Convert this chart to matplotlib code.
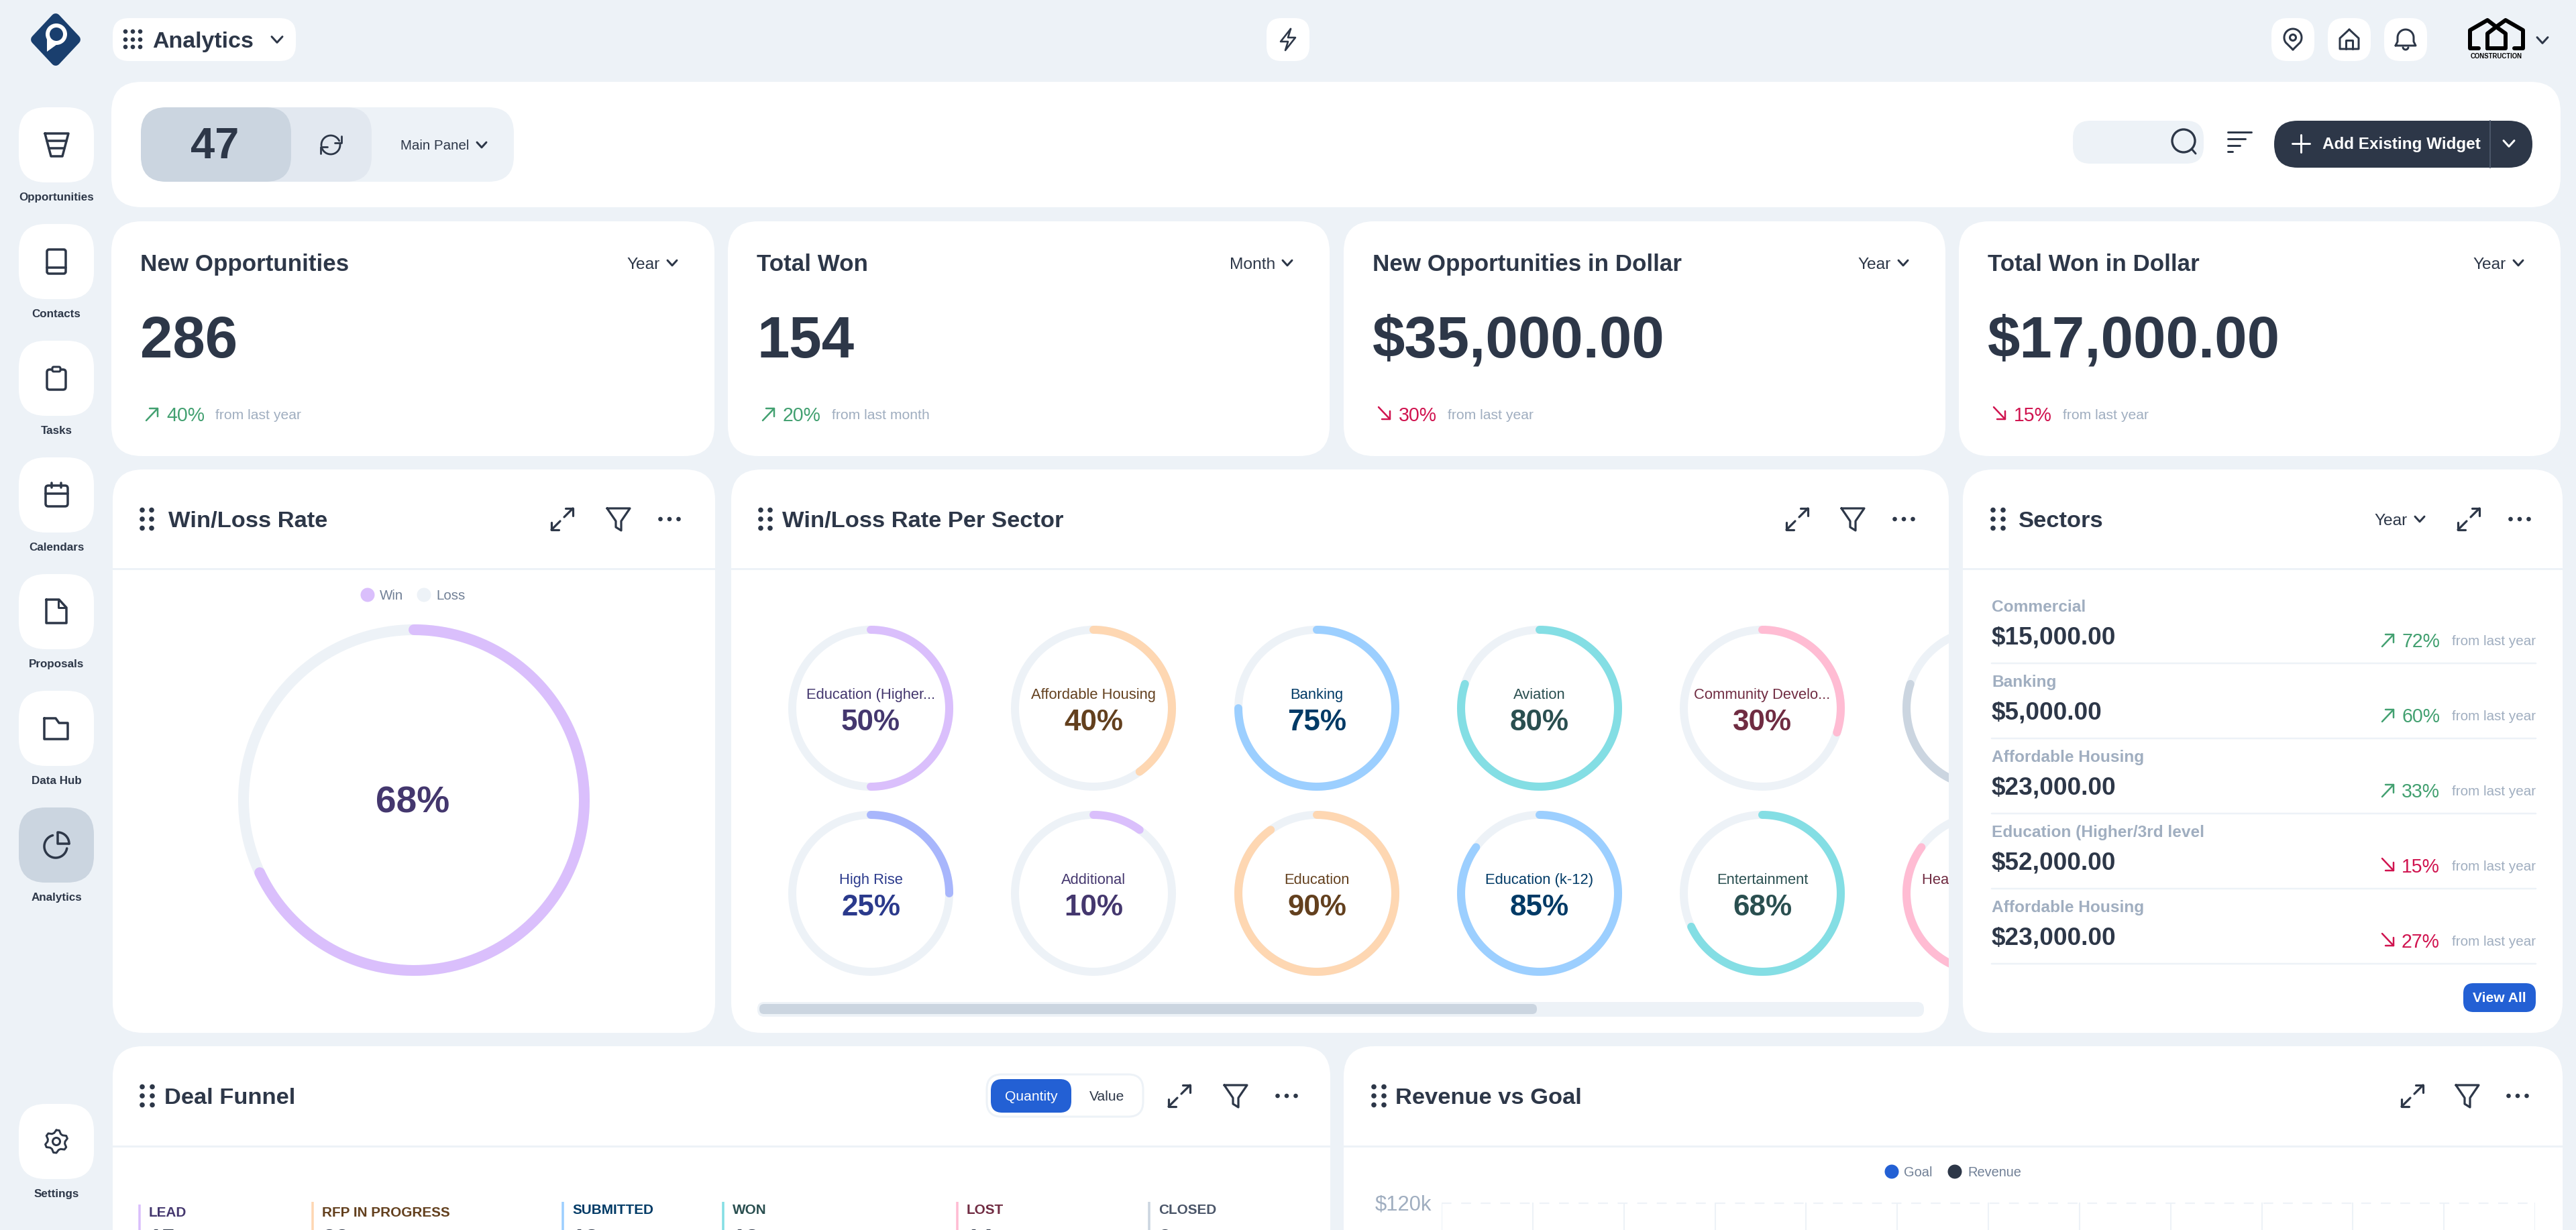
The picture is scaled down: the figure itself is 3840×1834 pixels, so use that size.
import numpy as np
import matplotlib
matplotlib.use("Agg")
import matplotlib.pyplot as plt
from matplotlib.patches import FancyBboxPatch, Circle, Rectangle, Polygon

plt.rcParams['font.family'] = ['Liberation Sans', 'DejaVu Sans']

# === Chart values ===
sidebar_labels = ["Opportunities", "Contacts", "Tasks", "Calendars", "Proposals", "Data Hub", "Analytics"]

kpi_titles = ["New Opportunities", "Total Won", "New Opportunities in Dollar", "Total Won in Dollar"]
kpi_values = ["286", "154", "$35,000.00", "$17,000.00"]
kpi_periods = ["Year", "Month", "Year", "Year"]
kpi_changes = [40, 20, -30, -15]
kpi_notes = ["from last year", "from last month", "from last year", "from last year"]

win_rate = 68

sector_donut_names = ["Education (Higher...", "Affordable Housing", "Banking", "Aviation", "Community Develo...", "",
                      "High Rise", "Additional", "Education", "Education (k-12)", "Entertainment", "Healthcare Facilit..."]
sector_donut_values = [50, 40, 75, 80, 30, 80,
                       25, 10, 90, 85, 68, 85]
sector_donut_colors = ["#DABFFC", "#FED7B2", "#9CCFFF", "#84DEE4", "#FFBCD3", "#CBD5E0",
                       "#A8B6FC", "#DABFFC", "#FED7B2", "#9CCFFF", "#84DEE4", "#FFBCD3"]
sector_text_colors = ["#44376E", "#63401E", "#003A66", "#2A4F50", "#702C42", "#4A5568",
                      "#2B3A8C", "#44376E", "#63401E", "#003A66", "#2A4F50", "#702C42"]

sector_names = ["Commercial", "Banking", "Affordable Housing", "Education (Higher/3rd level", "Affordable Housing"]
sector_values = ["$15,000.00", "$5,000.00", "$23,000.00", "$52,000.00", "$23,000.00"]
sector_changes = [72, 60, 33, -15, -27]

funnel_stages = ["LEAD", "RFP IN PROGRESS", "SUBMITTED", "WON", "LOST", "CLOSED"]
funnel_counts = ["15", "33", "18", "18", "14", "9"]
funnel_colors = ["#DABFFC", "#FED7B2", "#9CCFFF", "#84DEE4", "#FFBCD3", "#CBD5E0"]
funnel_text_colors = ["#44376E", "#63401E", "#003A66", "#2A4F50", "#702C42", "#4A5568"]

revenue_months = list(range(13))
revenue_ticks = [120]
revenue_tick_labels = ["$120k"]

# === Colours ===
BG = "#EDF2F7"
DARK = "#2D3748"
GREY = "#A0AEC0"
LEGEND = "#718096"
GREEN = "#42A070"
RED = "#D0134F"
BLUE = "#2360D4"

W, H = 3840, 1834
fig = plt.figure(figsize=(W / 100, H / 100), dpi=100, facecolor=BG)
ax = fig.add_axes([0, 0, 1, 1])
ax.set_xlim(0, W)
ax.set_ylim(H, 0)
ax.axis("off")


# === Helpers, everything below is in image pixels ===
def box(x0, y0, x1, y1, r, color, ec="none", lw=0, z=1):
    p = FancyBboxPatch((x0 + r, y0 + r), x1 - x0 - 2 * r, y1 - y0 - 2 * r,
                       boxstyle=f"round,pad={r},rounding_size={r}",
                       fc=color, ec=ec, lw=lw * 0.72, zorder=z)
    ax.add_patch(p)


def tx(x, y, s, px, color=DARK, bold=False, ha="left", z=5):
    # y is the middle of the capitals
    return ax.text(x, y + 0.34 * px, s, fontsize=px * 0.72, color=color, ha=ha, va="baseline",
                   fontweight="bold" if bold else "normal", zorder=z)


def line(pts, lw=3.5, color=DARK, closed=False, z=5):
    pts = list(pts)
    if closed:
        pts.append(pts[0])
    xs, ys = zip(*pts)
    ax.plot(xs, ys, color=color, lw=lw * 0.72, solid_capstyle="round", solid_joinstyle="round", zorder=z)


def shift(pts, cx, cy):
    return [(cx + a, cy + b) for a, b in pts]


def arc(cx, cy, r, a0, a1, lw=3.5, color=DARK, z=5):
    t = np.radians(np.linspace(a0, a1, 80))
    ax.plot(cx + r * np.sin(t), cy - r * np.cos(t), color=color, lw=lw * 0.72, solid_capstyle="round", zorder=z)


def chevron(cx, cy, size=7, color=DARK):
    line([(cx - size, cy - size * 0.55), (cx, cy + size * 0.55), (cx + size, cy - size * 0.55)], lw=3, color=color)


def dots(cx, cy, color=DARK):
    for dx in (-13.5, 0, 13.5):
        ax.add_patch(Circle((cx + dx, cy), 3.3, fc=color, ec="none", zorder=5))


def grip(x0, x1, cy):
    for yy in (cy - 13.5, cy, cy + 13.5):
        for xx in (x0, x1):
            ax.add_patch(Circle((xx, yy), 3.8, fc=DARK, ec="none", zorder=5))


def expand(cx, cy):
    line(shift([(3, -3), (16, -16)], cx, cy), lw=3.2)
    line(shift([(5, -16), (16, -16), (16, -5)], cx, cy), lw=3.2)
    line(shift([(-3, 3), (-16, 16)], cx, cy), lw=3.2)
    line(shift([(-16, 5), (-16, 16), (-5, 16)], cx, cy), lw=3.2)


def funnel_icon(cx, cy):
    line(shift([(-17, -16), (17, -16), (4, 3), (4, 17), (-4, 12), (-4, 3)], cx, cy), lw=3.2, closed=True)


def trend(cx, cy, up):
    col = GREEN if up else RED
    if up:
        line(shift([(-9, 10), (8, -8)], cx, cy), lw=2.5, color=col)
        line(shift([(-4, -8), (8, -8), (8, 4)], cx, cy), lw=2.5, color=col)
    else:
        line(shift([(-9, -10), (8, 8)], cx, cy), lw=2.5, color=col)
        line(shift([(-4, 8), (8, 8), (8, -4)], cx, cy), lw=2.5, color=col)


def donut(cx, cy, r, w, value, color, clip=None):
    t = np.linspace(0, 2 * np.pi, 361)
    p = np.linspace(0, value / 100 * 2 * np.pi, 240)
    a, = ax.plot(cx + r * np.sin(t), cy - r * np.cos(t), color=BG, lw=w * 0.72, zorder=3)
    b, = ax.plot(cx + r * np.sin(p), cy - r * np.cos(p), color=color, lw=w * 0.72,
                 solid_capstyle="round", zorder=4)
    if clip is not None:
        a.set_clip_path(clip)
        b.set_clip_path(clip)


# === Top bar ===
ax.add_patch(Polygon([(83, 27), (113, 59), (83, 91), (53, 59)], closed=True, fc="#1A3F6E", ec="#1A3F6E",
                     lw=10, joinstyle="round", zorder=2))
ax.add_patch(Polygon([(70, 51), (70, 77), (88, 64)], closed=True, fc="white", ec="none", zorder=3))
ax.add_patch(Circle((84, 51), 13, fc="#1A3F6E", ec="white", lw=4.3, zorder=4))

box(168, 27, 441, 91, 24, "white")
for yy in (47, 59, 70):
    for xx in (187, 198, 209):
        ax.add_patch(Circle((xx, yy), 3.3, fc=DARK, ec="none", zorder=5))
tx(227, 59, "Analytics", 34, bold=True)
chevron(413, 59, 8)

box(1888, 27, 1952, 91, 22, "white")
line([(1924, 43), (1909, 62), (1920, 62), (1916, 75), (1931, 56), (1920, 56)], lw=2.6, closed=True)

for cx in (3418, 3502, 3586):
    box(cx - 32, 27, cx + 32, 91, 24, "white")
# pin
t = np.radians(np.linspace(-125, 125, 60))
line([(3418, 74)] + [(3418 + 13 * np.sin(a), 56 - 13 * np.cos(a)) for a in t], lw=3, closed=True)
ax.add_patch(Circle((3418, 56), 4.5, fc="white", ec=DARK, lw=2.2, zorder=5))
# home
line([(3502, 44), (3516, 57), (3516, 73), (3488, 73), (3488, 57)], lw=3, closed=True)
line([(3497, 73), (3497, 60), (3507, 60), (3507, 73)], lw=3)
# bell
t = np.radians(np.linspace(-90, 90, 40))
line([(3571, 68)] + [(3574, 62)] + [(3586 + 12 * np.sin(a), 56 - 12 * np.cos(a)) for a in t] + [(3598, 62), (3601, 68)], lw=3, closed=True)
arc(3586, 70, 4, 100, 260, lw=3)

# construction logo
line([(3695, 72), (3682, 72), (3682, 45), (3708, 30), (3721, 40), (3735, 30), (3761, 45), (3761, 72), (3748, 72)],
     lw=6, color="black")
line([(3708, 72), (3708, 50), (3721, 40), (3735, 50), (3735, 72)], lw=6, color="black", closed=True)
tx(3721, 84, "CONSTRUCTION", 9.6, color="black", bold=True, ha="center")
chevron(3790, 60, 8)

# === Sidebar ===
side_y = [160, 334, 508, 682, 856, 1030, 1204]
for i, name in enumerate(sidebar_labels):
    y0 = side_y[i]
    box(28, y0, 140, y0 + 112, 40, "#CBD5E0" if name == "Analytics" else "white")
    tx(84, y0 + 133, name, 17, bold=True, ha="center")

line([(67, 199), (102, 199), (93, 233), (76, 233)], closed=True)
line([(70, 210), (99, 210)])
line([(73, 221), (96, 221)])
box(70, 372, 98, 408, 3, "none", ec=DARK, lw=3.5, z=5)
line([(70, 399), (98, 399)])
box(70, 551, 98, 581, 4, "none", ec=DARK, lw=3.5, z=5)
box(78, 547, 90, 554, 2, "white", ec=DARK, lw=3, z=6)
box(68, 724, 101, 755, 4, "none", ec=DARK, lw=3.5, z=5)
line([(68, 736), (101, 736)])
line([(77, 720), (77, 727)])
line([(91, 720), (91, 727)])
line([(69, 894), (88, 894), (99, 906), (99, 929), (69, 929)], closed=True)
line([(87, 895), (87, 906), (98, 906)], lw=3)
line([(66, 1071), (83, 1071), (88, 1078), (101, 1078), (101, 1102), (66, 1102)], closed=True)
arc(83, 1262, 17, 100, 345)
line([(86, 1242), (86, 1258), (103, 1258)])
arc(86, 1258, 17, 0, 90)

# settings
box(28, 1646, 140, 1758, 40, "white")
t = np.radians(np.arange(0, 375, 15))
rad = [17 if k % 4 in (0, 1) else 13 for k in range(len(t))]
line([(84 + r * np.sin(a), 1702 - r * np.cos(a)) for a, r in zip(t, rad)], lw=3)
ax.add_patch(Circle((84, 1702), 5.5, fc="white", ec=DARK, lw=2.2, zorder=5))
tx(84, 1779, "Settings", 17, bold=True, ha="center")

# === Widget header panel ===
box(166, 122, 3817, 309, 45, "white")
box(210, 160, 766, 271, 38, BG, z=2)
box(300, 160, 554, 271, 38, "#E2E8F0", z=3)
box(210, 160, 434, 271, 38, "#CBD5E0", z=4)
tx(320, 214, "47", 65, bold=True, ha="center")
arc(493, 216, 14, -95, 65, lw=2.8)
arc(493, 216, 14, 85, 245, lw=2.8)
line([(509, 203), (509, 213), (499, 213)], lw=2.8)
line([(478, 229), (478, 219), (488, 219)], lw=2.8)
tx(597, 216, "Main Panel", 20.5)
chevron(718, 216, 7)

box(3090, 180, 3285, 244, 26, BG)
ax.add_patch(Circle((3255, 210), 17, fc="none", ec=DARK, lw=2.4, zorder=5))
line([(3267, 222), (3273, 229)], lw=3)
for yy, ln in zip((197, 207, 216.5, 226), (35, 26, 18, 7)):
    line([(3321, yy), (3321 + ln, yy)], lw=3)

box(3390, 180, 3775, 250, 35, DARK)
line([(3712, 180), (3712, 250)], lw=2, color="#4A5568")
line([(3430, 201), (3430, 227)], lw=3, color="white")
line([(3417, 214), (3443, 214)], lw=3, color="white")
tx(3462, 214, "Add Existing Widget", 24.2, color="white", bold=True)
chevron(3740, 214, 8, color="white")

# === KPI cards ===
kpi_x0 = [166, 1085, 2003, 2920]
kpi_x1 = [1065, 1982, 2900, 3817]
for i in range(4):
    x0, x1 = kpi_x0[i], kpi_x1[i]
    box(x0, 330, x1, 680, 45, "white")
    tx(x0 + 43, 392, kpi_titles[i], 35, bold=True)
    tx(x0 + 43, 503, kpi_values[i], 87, bold=True)
    tx(x1 - 81, 393, kpi_periods[i], 24.5, ha="right")
    chevron(x1 - 63, 392, 7)
    up = kpi_changes[i] > 0
    trend(x0 + 61, 617, up)
    tx(x0 + 82, 618, f"{abs(kpi_changes[i])}%", 28.5, color=GREEN if up else RED)
    tx(x0 + 155, 618, kpi_notes[i], 21.2, color=GREY)

# === Win/Loss Rate ===
box(168, 700, 1066, 1540, 45, "white")
grip(212, 226, 774)
tx(251, 774, "Win/Loss Rate", 34.5, bold=True)
line([(168, 848), (1066, 848)], lw=3, color=BG)
expand(838, 774)
funnel_icon(922, 774)
dots(998, 774)
ax.add_patch(Circle((548, 887), 10.5, fc="#DABFFC", ec="none", zorder=5))
tx(566, 887, "Win", 20.5, color=LEGEND)
ax.add_patch(Circle((632, 887), 10.5, fc=BG, ec="none", zorder=5))
tx(650, 887, "Loss", 20.5, color=LEGEND)
donut(617, 1193, 254, 16, win_rate, "#DABFFC")
tx(615, 1193, f"{win_rate}%", 55, color="#44376E", bold=True, ha="center")

# === Win/Loss Rate Per Sector ===
box(1090, 700, 2905, 1540, 45, "white")
grip(1134, 1148, 774)
tx(1166, 774, "Win/Loss Rate Per Sector", 34.5, bold=True)
line([(1090, 848), (2905, 848)], lw=3, color=BG)
expand(2679, 774)
funnel_icon(2762, 774)
dots(2838, 774)

clip = Rectangle((1095, 880), 2905 - 1095, 600, transform=ax.transData)
centre_x = [1298, 1630, 1963, 2295, 2627, 2959]
centre_y = [1056, 1332]
for i, val in enumerate(sector_donut_values):
    cx = centre_x[i % 6]
    cy = centre_y[i // 6]
    donut(cx, cy, 117, 12, val, sector_donut_colors[i], clip=clip)
    a = tx(cx, cy - 21, sector_donut_names[i], 22, color=sector_text_colors[i], ha="center")
    a.set_clip_on(True)
    a.set_clip_path(clip)
    # last column runs under the card edge, its percent is fully hidden there
    if i % 6 < 5:
        tx(cx, cy + 18, f"{val}%", 44, color=sector_text_colors[i], bold=True, ha="center")

box(1129, 1494, 2868, 1516, 10, BG)
box(1132, 1497, 2291, 1512, 7, "#CBD5E0", z=2)

# === Sectors ===
box(2926, 700, 3820, 1540, 45, "white")
grip(2971, 2986, 774)
tx(3009, 774, "Sectors", 34.5, bold=True)
line([(2926, 848), (3820, 848)], lw=3, color=BG)
tx(3589, 775, "Year", 24.5, ha="right")
chevron(3607, 774, 7)
expand(3680, 774)
dots(3756, 774)
for i, name in enumerate(sector_names):
    dy = 112 * i
    tx(2969, 904 + dy, name, 24.5, color=GREY, bold=True)
    tx(2969, 948 + dy, sector_values[i], 37, bold=True)
    line([(2969, 989 + dy), (3780, 989 + dy)], lw=2.5, color=BG)
    up = sector_changes[i] > 0
    trend(3560, 954 + dy, up)
    tx(3580, 955 + dy, f"{abs(sector_changes[i])}%", 28.5, color=GREEN if up else RED)
    tx(3655, 955 + dy, "from last year", 20.6, color=GREY)
box(3672, 1466, 3780, 1509, 15, BLUE)
tx(3726, 1487, "View All", 21, color="white", bold=True, ha="center")

# === Deal Funnel ===
box(168, 1560, 1983, 1900, 45, "white")
grip(212, 227, 1634)
tx(245, 1634, "Deal Funnel", 34.5, bold=True)
line([(168, 1709), (1983, 1709)], lw=3, color=BG)
box(1471, 1602, 1704, 1665, 22, "white", ec=BG, lw=3)
box(1477, 1609, 1597, 1659, 17, BLUE, z=2)
tx(1537, 1634, "Quantity", 21, color="white", ha="center")
tx(1650, 1634, "Value", 21, ha="center")
expand(1758, 1634)
funnel_icon(1842, 1634)
dots(1918, 1634)

stage_x = [208, 466, 839, 1078, 1427, 1713]
stage_top = [1796, 1792, 1792, 1792, 1792, 1792]
stage_y = [1807, 1807, 1803, 1803, 1803, 1803]
for i, stage in enumerate(funnel_stages):
    x = stage_x[i]
    ax.plot([x, x], [stage_top[i], 1840], color=funnel_colors[i], lw=3.5 * 0.72, solid_capstyle="butt", zorder=5)
    tx(x + 14, stage_y[i], stage, 20.8, color=funnel_text_colors[i], bold=True)
    ax.text(x + 14, 1832, funnel_counts[i], fontsize=36 * 0.72, color=DARK, fontweight="bold", va="top", zorder=5)

# === Revenue vs Goal ===
box(2003, 1560, 3820, 1900, 45, "white")
grip(2048, 2063, 1634)
tx(2080, 1634, "Revenue vs Goal", 34.5, bold=True)
line([(2003, 1709), (3820, 1709)], lw=3, color=BG)
expand(3596, 1634)
funnel_icon(3678, 1634)
dots(3753, 1634)
ax.add_patch(Circle((2820, 1747), 10.5, fc=BLUE, ec="none", zorder=5))
tx(2838, 1747, "Goal", 20, color=LEGEND)
ax.add_patch(Circle((2914, 1747), 10.5, fc=DARK, ec="none", zorder=5))
tx(2933, 1747, "Revenue", 20, color=LEGEND)

# the real chart runs off the bottom of the picture, only its top shows
chart_top, chart_bottom = 1793, 2100
rev = fig.add_axes([2149 / W, 1 - chart_bottom / H, (3779 - 2149) / W, (chart_bottom - chart_top) / H], zorder=5)
rev.patch.set_visible(False)
rev.set_xlim(revenue_months[0], revenue_months[-1])
rev.set_ylim(0, revenue_ticks[-1])
for s in rev.spines.values():
    s.set_visible(False)
rev.set_xticks(revenue_months)
rev.set_xticklabels([])
rev.set_yticks(revenue_ticks)
rev.set_yticklabels(revenue_tick_labels, fontsize=31 * 0.72, color=GREY)
rev.tick_params(length=0, pad=11)
rev.xaxis.grid(True, color=BG, lw=1.5)
rev.yaxis.grid(True, color=BG, lw=3, linestyle=(0, (3.5, 3.5)))
rev.set_axisbelow(True)

fig.savefig("out.png", dpi=100, facecolor=BG)
